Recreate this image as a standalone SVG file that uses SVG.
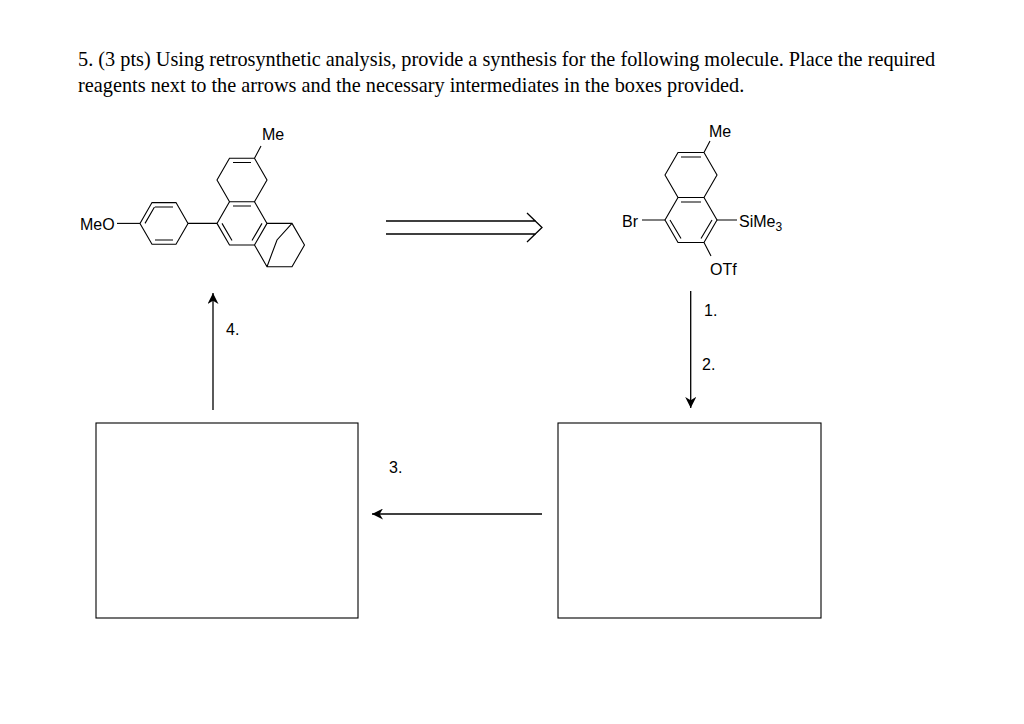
<svg xmlns="http://www.w3.org/2000/svg" width="1024" height="724" viewBox="0 0 1024 724">
<style>
.t{font-family:"Liberation Serif",serif;font-size:20.3px;fill:#000}
.s{font-family:"Liberation Sans",Arial,sans-serif;font-size:16px;fill:#000}
.b{stroke:#000;stroke-width:1.1;fill:none}
.a{stroke:#000;stroke-width:1.3;fill:none}
</style>
<defs><marker id="ah" viewBox="0 0 10 10" refX="10" refY="5" markerWidth="16" markerHeight="11" markerUnits="userSpaceOnUse" orient="auto"><path d="M0,0 L10,5 L0,10 L3,5 Z" fill="#000"/></marker></defs>
<rect width="1024" height="724" fill="#fff"/>
<text class="t" x="78" y="66">5. (3 pts) Using retrosynthetic analysis, provide a synthesis for the following molecule.  Place the required</text>
<text class="t" x="78" y="92">reagents next to the arrows and the necessary intermediates in the boxes provided.</text>
<g id="target">
<path class="b" d="M217,180 L229.5,158.3 L254.5,158.3 L267,180 L254.5,201.7 L229.5,201.7 Z M233,162.5 L251,162.5 M254.5,158.3 L261,146"/>
<path class="b" d="M229.5,201.7 L217,223.4 L229.5,245 L254.5,245 L267,223.4 L254.5,201.7 M233,206 L251,206 M222,223.4 L232,240.5 M262,223.4 L252,240.5"/>
<path class="b" d="M267,223.4 L292,223.4 L304.5,245 L292,266.7 L267,266.7 L254.5,245 M292,223.4 L277,240 L267,266.7"/>
<path class="b" d="M217,223.4 L188,223.4 M188,223.4 L176,202.6 L152,202.6 L140,223.4 L152,244.2 L176,244.2 Z M155,207 L173,207 M155,240 L173,240 M145,223.4 L154.5,207"/>
<path class="b" d="M140,223.4 L117,223.4"/>
<text class="s" x="80" y="230">MeO</text>
<text class="s" x="262" y="140">Me</text>
</g>
<g id="start">
<path class="b" d="M665,175 L678,152.5 L704,152.5 L717,175 L704,197.5 L678,197.5 Z M681,157 L701,157 M704,152.5 L710,141"/>
<path class="b" d="M678,197.5 L665,220 L678,242.5 L704,242.5 L717,220 L704,197.5 M681,202 L701,202 M670,220 L681,238.5 M712,220 L701,238.5"/>
<path class="b" d="M665,220 L642,220 M717,220 L737,220 M704,242.5 L711,256"/>
<text class="s" x="622" y="227">Br</text>
<text class="s" x="739" y="227">SiMe<tspan font-size="12" dy="4">3</tspan></text>
<text class="s" x="710" y="275">OTf</text>
<text class="s" x="709" y="137">Me</text>
</g>
<g id="box1"><rect x="96" y="423" width="262" height="195" class="b"/></g>
<g id="box2"><rect x="558" y="423" width="263" height="195" class="b"/></g>
<g id="connectors">
<path class="a" d="M386,221 L536,221 M386,234 L536,234 M527,213 L542,227.5 L527,242"/>
<path class="a" d="M690.7,291 L690.7,408" marker-end="url(#ah)"/>
<path class="a" d="M542,514 L372,514" marker-end="url(#ah)"/>
<path class="a" d="M213,410 L213,293" marker-end="url(#ah)"/>
</g>
<text class="s" x="704" y="316">1.</text>
<text class="s" x="702" y="370">2.</text>
<text class="s" x="389" y="473">3.</text>
<text class="s" x="226" y="335">4.</text>
</svg>
